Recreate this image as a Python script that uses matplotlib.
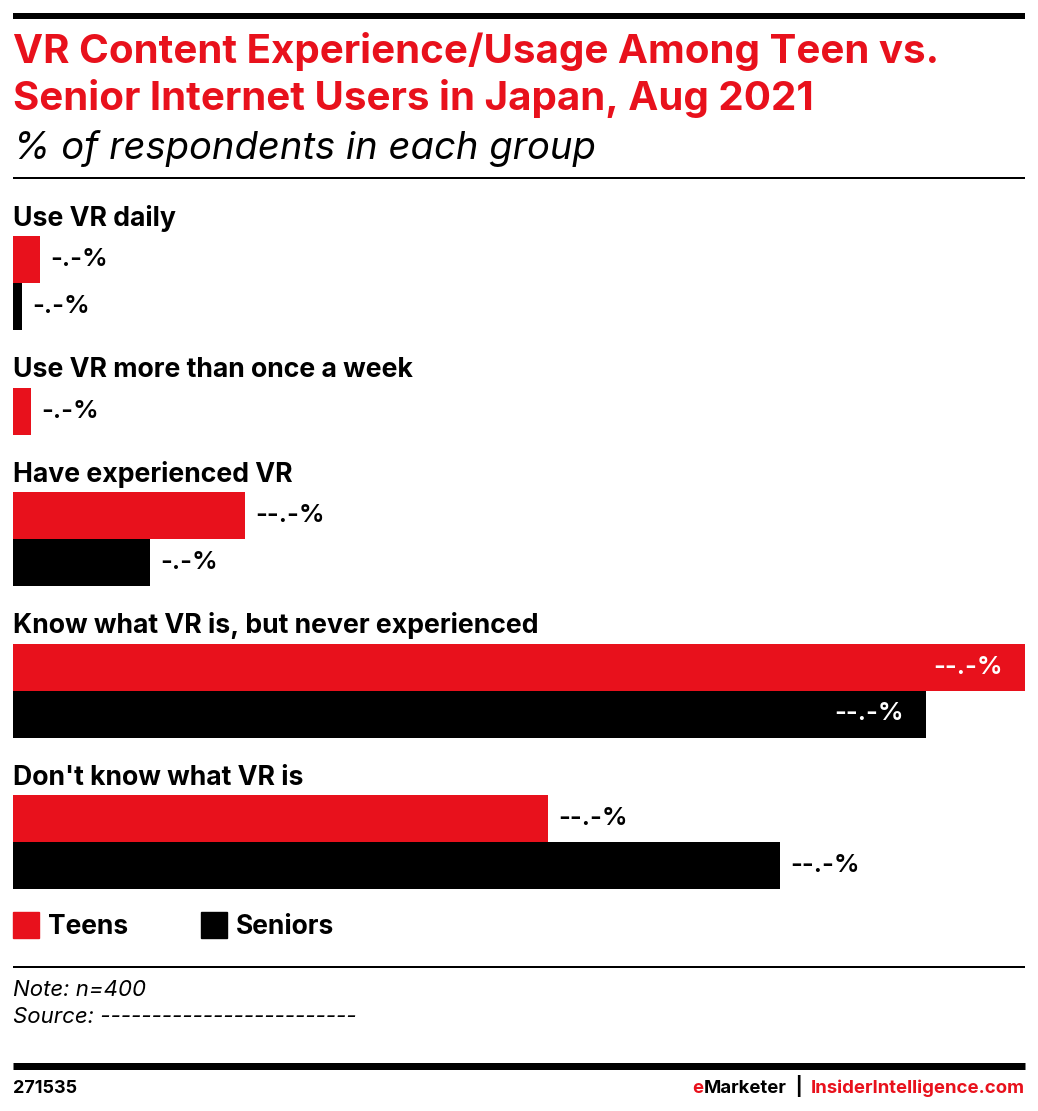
import matplotlib.pyplot as plt
from matplotlib.patches import Rectangle
from matplotlib.lines import Line2D

# Data (labels are masked in the source)
categories = ['Use VR daily', 'Use VR more than once a week', 'Have experienced VR',
              'Know what VR is, but never experienced', "Don't know what VR is"]
teens = [1.5, 1.0, 12.9, 56.2, 29.7]
seniors = [0.5, None, 7.6, 50.7, 42.6]
teen_labels = ['-.-%', '-.-%', '--.-%', '--.-%', '--.-%']
senior_labels = ['-.-%', None, '-.-%', '--.-%', '--.-%']
series_names = ['Teens', 'Seniors']

RED = '#E8111C'
BLACK = '#000000'
W, H = 1038, 1111

plt.rcParams['font.family'] = ['Inter', 'DejaVu Sans']

fig = plt.figure(figsize=(W / 100, H / 100), dpi=100)


def fx(px):
    return px / W


def fy(py):
    return 1 - py / H


def hline(y, lw):
    fig.add_artist(Line2D([fx(13), fx(1025)], [fy(y), fy(y)], color=BLACK,
                          linewidth=lw * 72 / 100, solid_capstyle='butt'))


# header
hline(16, 6)
fig.text(fx(13), fy(63), 'VR Content Experience/Usage Among Teen vs.', color=RED,
         fontsize=29, fontweight='bold', va='baseline')
fig.text(fx(13), fy(110), 'Senior Internet Users in Japan, Aug 2021', color=RED,
         fontsize=29, fontweight='bold', va='baseline')
fig.text(fx(13), fy(159), '% of respondents in each group', color=BLACK,
         fontsize=27.5, fontstyle='italic', va='baseline')
hline(178, 2)

# bar area
top_px, bottom_px = 236, 889
ax = fig.add_axes([fx(13), fy(bottom_px), fx(1025) - fx(13), (bottom_px - top_px) / H])
gap = 57.5 / 47

cursor = 0.0
for i, cat in enumerate(categories):
    ax.text(0, cursor - 0.22, cat, fontsize=19.2, fontweight='bold', va='baseline',
            ha='left', color=BLACK)
    rows = [(teens[i], teen_labels[i], RED)]
    if seniors[i] is not None:
        rows.append((seniors[i], senior_labels[i], BLACK))
    for j, (val, lab, col) in enumerate(rows):
        yc = cursor + j + 0.5
        ax.barh(yc, val, height=1.0, color=col, linewidth=0)
        if val > 0.85 * max(teens):
            ax.annotate(lab, (val, yc), xytext=(-16, 0), textcoords='offset points',
                        ha='right', va='center', color='white', fontsize=18.5,
                        fontweight='semibold')
        else:
            ax.annotate(lab, (val, yc), xytext=(7.2, 0), textcoords='offset points',
                        ha='left', va='center', color=BLACK, fontsize=18.5,
                        fontweight='semibold')
    cursor += len(rows) + gap
total = cursor - gap

ax.set_xlim(0, max(teens))
ax.set_ylim(total, 0)
ax.axis('off')

# legend
for name, col, x0 in zip(series_names, [RED, BLACK], [13, 201]):
    fig.add_artist(Rectangle((fx(x0), fy(938)), fx(26), 26 / H, color=col,
                             transform=fig.transFigure))
    fig.text(fx(x0 + 35), fy(934), name, fontsize=19, fontweight='bold',
             va='baseline', color=BLACK)

# notes
hline(967, 2)
fig.text(fx(13), fy(996), 'Note: n=400', fontsize=16, fontstyle='italic',
         va='baseline')
fig.text(fx(13), fy(1023), 'Source: -------------------------', fontsize=16,
         fontstyle='italic', va='baseline')

# footer
hline(1066, 7)
fig.text(fx(13), fy(1093), '271535', fontsize=13, fontweight='bold', va='baseline')

renderer = fig.canvas.get_renderer()
x_right = 1025
parts = [('InsiderIntelligence.com', RED), ('  |  ', BLACK), ('Marketer', BLACK), ('e', RED)]
for txt, col in parts:
    t = fig.text(fx(x_right), fy(1093), txt, fontsize=13.4, fontweight='bold',
                 va='baseline', ha='right', color=col)
    bb = t.get_window_extent(renderer)
    x_right -= bb.width

fig.savefig('out.png', dpi=100)
